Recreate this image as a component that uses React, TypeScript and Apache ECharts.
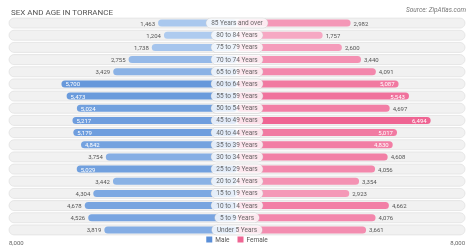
import React, { useEffect, useRef } from "react";
import * as echarts from "echarts";

const categories = [
  "85 Years and over",
  "80 to 84 Years",
  "75 to 79 Years",
  "70 to 74 Years",
  "65 to 69 Years",
  "60 to 64 Years",
  "55 to 59 Years",
  "50 to 54 Years",
  "45 to 49 Years",
  "40 to 44 Years",
  "35 to 39 Years",
  "30 to 34 Years",
  "25 to 29 Years",
  "20 to 24 Years",
  "15 to 19 Years",
  "10 to 14 Years",
  "5 to 9 Years",
  "Under 5 Years",
];

const maleValues = [1463, 1204, 1738, 2755, 3429, 5700, 5473, 5024, 5217, 5179, 4842, 3754, 5029, 3442, 4304, 4678, 4526, 3819];
const femaleValues = [2982, 1757, 2600, 3440, 4091, 5087, 5543, 4697, 6494, 5017, 4830, 4608, 4056, 3354, 2923, 4662, 4076, 3661];

const axisMaxLabel = "8,000";
const OFFSET = 2000; // blank space behind center labels (value units)
const AXIS_MAX = 10000;
const INSIDE_THRESHOLD = 4800;

const FONT = "Roboto, 'Open Sans', sans-serif";

function mix(a: string, b: string, t: number) {
  const pa = [1, 3, 5].map((i) => parseInt(a.slice(i, i + 2), 16));
  const pb = [1, 3, 5].map((i) => parseInt(b.slice(i, i + 2), 16));
  const c = pa.map((v, i) => Math.round(v + (pb[i] - v) * t));
  return "#" + c.map((v) => v.toString(16).padStart(2, "0")).join("");
}

const fmt = (v: number) => v.toLocaleString("en-US");

export default function App() {
  const ref = useRef<HTMLDivElement>(null);
  useEffect(() => {
    if (!ref.current) return;
    const chart = echarts.init(ref.current, undefined, { renderer: "svg" });
    const all = [...maleValues, ...femaleValues];
    const lo = Math.min(...all);
    const hi = Math.max(...all);
    const maleColor = (v: number) => mix("#aecbef", "#5a8fd8", (v - lo) / (hi - lo));
    const femaleColor = (v: number) => mix("#f7b0c9", "#ef6593", (v - lo) / (hi - lo));

    const maleData = maleValues.map((v) => {
      const inside = v >= INSIDE_THRESHOLD;
      return {
        value: -(v + OFFSET),
        itemStyle: { color: maleColor(v) },
        label: {
          show: true,
          position: inside ? "insideLeft" : "left",
          color: inside ? "#ffffff" : "#555555",
          distance: inside ? 4 : 3,
          formatter: () => fmt(v),
        },
      };
    });
    const femaleData = femaleValues.map((v) => {
      const inside = v >= INSIDE_THRESHOLD;
      return {
        value: v + OFFSET,
        itemStyle: { color: femaleColor(v) },
        label: {
          show: true,
          position: inside ? "insideRight" : "right",
          color: inside ? "#ffffff" : "#555555",
          distance: inside ? 4 : 3,
          formatter: () => fmt(v),
        },
      };
    });

    chart.setOption({
      animation: false,
      textStyle: { fontFamily: FONT },
      title: {
        text: "SEX AND AGE IN TORRANCE",
        left: 6,
        top: 3,
        textStyle: { fontSize: 8, fontWeight: "normal", color: "#555555", fontFamily: FONT },
      },
      graphic: [
        {
          type: "text",
          right: 8,
          top: 6,
          style: { text: "Source: ZipAtlas.com", fontSize: 6.5, fill: "#777777", fontFamily: FONT, fontStyle: "italic" },
        },
      ],
      legend: {
        data: ["Male", "Female"],
        bottom: 1,
        left: "center",
        itemWidth: 6,
        itemHeight: 6,
        itemGap: 8,
        icon: "rect",
        textStyle: { fontSize: 6.5, color: "#555555", fontFamily: FONT, padding: [0, 0, 0, -2] },
      },
      grid: { left: 9, right: 9, top: 17, bottom: 13, containLabel: false },
      xAxis: {
        type: "value",
        min: -AXIS_MAX,
        max: AXIS_MAX,
        interval: AXIS_MAX,
        axisLine: { show: false },
        axisTick: { show: false },
        splitLine: { show: false },
        axisLabel: {
          fontSize: 6,
          color: "#666666",
          margin: 3,
          alignMinLabel: "left",
          alignMaxLabel: "right",
          formatter: (v: number) => (Math.abs(v) === AXIS_MAX ? axisMaxLabel : ""),
        },
      },
      yAxis: [
        { type: "category", data: categories, inverse: true, show: false },
        { type: "category", data: categories, inverse: true, show: false },
      ],
      series: [
        {
          name: "bg",
          type: "bar",
          yAxisIndex: 1,
          barWidth: 10,
          data: categories.map(() => 0),
          showBackground: true,
          backgroundStyle: {
            color: "#f1f1f1",
            borderColor: "#dcdcdc",
            borderWidth: 0.6,
            borderRadius: 5,
          },
          silent: true,
          z: 1,
        },
        {
          name: "Male",
          type: "bar",
          stack: "a",
          barWidth: 7,
          itemStyle: { color: "#5a8fd8", borderRadius: 3.5 },
          label: { fontSize: 6, fontFamily: FONT },
          data: maleData,
          z: 2,
        },
        {
          name: "Female",
          type: "bar",
          stack: "a",
          barWidth: 7,
          itemStyle: { color: "#ef6593", borderRadius: 3.5 },
          label: { fontSize: 6, fontFamily: FONT },
          data: femaleData,
          z: 2,
        },
        {
          name: "labels",
          type: "scatter",
          symbolSize: 0,
          data: categories.map((c) => [0, c]),
          z: 5,
          silent: true,
          label: {
            show: true,
            position: "inside",
            formatter: (p: any) => p.value[1],
            fontSize: 6.5,
            color: "#444444",
            fontFamily: FONT,
            backgroundColor: "#ffffff",
            borderColor: "#d0d0d0",
            borderWidth: 0.5,
            borderRadius: 5,
            padding: [1.5, 5, 1, 5],
          },
        },
      ],
    });
    return () => chart.dispose();
  }, []);
  return <div ref={ref} style={{ position: "fixed", left: 0, top: 0, width: 474, height: 249 }} />;
}
